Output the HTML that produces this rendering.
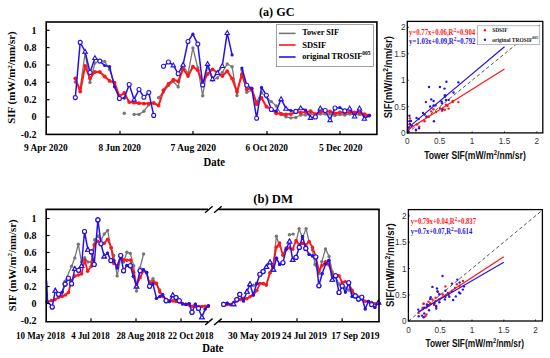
<!DOCTYPE html>
<html><head><meta charset="utf-8"><style>
html,body{margin:0;padding:0;background:#fff;width:550px;height:358px;overflow:hidden}
svg{display:block}
</style></head><body>
<svg width="550" height="358" viewBox="0 0 550 358">
<rect width="550" height="358" fill="#fff"/>
<polyline points="75.3,82 80.2,88.3 85.1,53 90,82.5 94.9,63 99.8,60.5 104.7,61.5 109.6,69.5 114.5,84 119.4,96" fill="none" stroke="#777777" stroke-width="1.3" stroke-linejoin="round" stroke-linecap="round"/>
<polyline points="134.1,114.4 139,114.4 143.9,111.2 148.8,104.8" fill="none" stroke="#777777" stroke-width="1.3" stroke-linejoin="round" stroke-linecap="round"/>
<polyline points="158.6,97.7 163.5,92 168.4,85.5 173.3,81.6 178.2,86.9 183.1,65 188,73.9 192.9,47.9 197.8,68 202.7,95.7 207.6,66 212.5,80 217.4,77.9 222.3,72.4 227.2,64 232.1,66.8 237,95.5 241.9,70 246.8,92.3 251.7,90 256.6,102 261.5,92.7 266.4,97 271.3,101.6 276.2,106 281.1,114.4 286,116.9 290.9,117.9 295.8,117.5 300.7,115 305.6,115 310.5,114 315.4,115.5 320.3,114 325.2,114 330.1,114 335,115.5 339.9,114.5 344.8,115 349.7,114 354.6,114.5 359.5,114.5 364.4,115.5 369.3,116" fill="none" stroke="#777777" stroke-width="1.3" stroke-linejoin="round" stroke-linecap="round"/>
<circle cx="75.3" cy="82" r="1.7" fill="#777777"/>
<circle cx="80.2" cy="88.3" r="1.7" fill="#777777"/>
<circle cx="85.1" cy="53" r="1.7" fill="#777777"/>
<circle cx="90" cy="82.5" r="1.7" fill="#777777"/>
<circle cx="94.9" cy="63" r="1.7" fill="#777777"/>
<circle cx="99.8" cy="60.5" r="1.7" fill="#777777"/>
<circle cx="104.7" cy="61.5" r="1.7" fill="#777777"/>
<circle cx="109.6" cy="69.5" r="1.7" fill="#777777"/>
<circle cx="114.5" cy="84" r="1.7" fill="#777777"/>
<circle cx="119.4" cy="96" r="1.7" fill="#777777"/>
<circle cx="124.3" cy="113.3" r="1.7" fill="#777777"/>
<circle cx="134.1" cy="114.4" r="1.7" fill="#777777"/>
<circle cx="139" cy="114.4" r="1.7" fill="#777777"/>
<circle cx="143.9" cy="111.2" r="1.7" fill="#777777"/>
<circle cx="148.8" cy="104.8" r="1.7" fill="#777777"/>
<circle cx="158.6" cy="97.7" r="1.7" fill="#777777"/>
<circle cx="163.5" cy="92" r="1.7" fill="#777777"/>
<circle cx="168.4" cy="85.5" r="1.7" fill="#777777"/>
<circle cx="173.3" cy="81.6" r="1.7" fill="#777777"/>
<circle cx="178.2" cy="86.9" r="1.7" fill="#777777"/>
<circle cx="183.1" cy="65" r="1.7" fill="#777777"/>
<circle cx="188" cy="73.9" r="1.7" fill="#777777"/>
<circle cx="192.9" cy="47.9" r="1.7" fill="#777777"/>
<circle cx="197.8" cy="68" r="1.7" fill="#777777"/>
<circle cx="202.7" cy="95.7" r="1.7" fill="#777777"/>
<circle cx="207.6" cy="66" r="1.7" fill="#777777"/>
<circle cx="212.5" cy="80" r="1.7" fill="#777777"/>
<circle cx="217.4" cy="77.9" r="1.7" fill="#777777"/>
<circle cx="222.3" cy="72.4" r="1.7" fill="#777777"/>
<circle cx="227.2" cy="64" r="1.7" fill="#777777"/>
<circle cx="232.1" cy="66.8" r="1.7" fill="#777777"/>
<circle cx="237" cy="95.5" r="1.7" fill="#777777"/>
<circle cx="241.9" cy="70" r="1.7" fill="#777777"/>
<circle cx="246.8" cy="92.3" r="1.7" fill="#777777"/>
<circle cx="251.7" cy="90" r="1.7" fill="#777777"/>
<circle cx="256.6" cy="102" r="1.7" fill="#777777"/>
<circle cx="261.5" cy="92.7" r="1.7" fill="#777777"/>
<circle cx="266.4" cy="97" r="1.7" fill="#777777"/>
<circle cx="271.3" cy="101.6" r="1.7" fill="#777777"/>
<circle cx="276.2" cy="106" r="1.7" fill="#777777"/>
<circle cx="281.1" cy="114.4" r="1.7" fill="#777777"/>
<circle cx="286" cy="116.9" r="1.7" fill="#777777"/>
<circle cx="290.9" cy="117.9" r="1.7" fill="#777777"/>
<circle cx="295.8" cy="117.5" r="1.7" fill="#777777"/>
<circle cx="300.7" cy="115" r="1.7" fill="#777777"/>
<circle cx="305.6" cy="115" r="1.7" fill="#777777"/>
<circle cx="310.5" cy="114" r="1.7" fill="#777777"/>
<circle cx="315.4" cy="115.5" r="1.7" fill="#777777"/>
<circle cx="320.3" cy="114" r="1.7" fill="#777777"/>
<circle cx="325.2" cy="114" r="1.7" fill="#777777"/>
<circle cx="330.1" cy="114" r="1.7" fill="#777777"/>
<circle cx="335" cy="115.5" r="1.7" fill="#777777"/>
<circle cx="339.9" cy="114.5" r="1.7" fill="#777777"/>
<circle cx="344.8" cy="115" r="1.7" fill="#777777"/>
<circle cx="349.7" cy="114" r="1.7" fill="#777777"/>
<circle cx="354.6" cy="114.5" r="1.7" fill="#777777"/>
<circle cx="359.5" cy="114.5" r="1.7" fill="#777777"/>
<circle cx="364.4" cy="115.5" r="1.7" fill="#777777"/>
<circle cx="369.3" cy="116" r="1.7" fill="#777777"/>
<polyline points="75.3,78.3 80.2,91.6 85.1,66 90,78.3 94.9,72 99.8,72 104.7,76.5 109.6,80.9 114.5,82.7 119.4,96.2 124.3,93 129.2,102.1 134.1,102.7 139,103.2 143.9,103.6 148.8,103.6 153.7,103 158.6,105.5 163.5,90.2 168.4,84 173.3,79.7 178.2,81.3 183.1,69 188,76 192.9,66.7 197.8,70.3 202.7,83 207.6,74.1 212.5,69.3 217.4,72.8 222.3,76 227.2,71.2 232.1,78.6 237,91.8 241.9,74.5 246.8,89.3 251.7,88.3 256.6,104.2 261.5,97.8 266.4,106.7 271.3,109.3 276.2,113.3 281.1,113.7 286,114.4 290.9,114.1 295.8,111.8 300.7,112.7 305.6,112 310.5,111.2 315.4,114.1 320.3,111.9 325.2,111.2 330.1,111.5 335,113.4 339.9,112.3 344.8,113 349.7,111.9 354.6,112.3 359.5,112.6 364.4,114.1 369.3,115.3" fill="none" stroke="#ff1616" stroke-width="2.0" stroke-linejoin="round" stroke-linecap="round"/>
<circle cx="75.3" cy="78.3" r="1.9" fill="#ff1616"/>
<circle cx="80.2" cy="91.6" r="1.9" fill="#ff1616"/>
<circle cx="85.1" cy="66" r="1.9" fill="#ff1616"/>
<circle cx="90" cy="78.3" r="1.9" fill="#ff1616"/>
<circle cx="94.9" cy="72" r="1.9" fill="#ff1616"/>
<circle cx="99.8" cy="72" r="1.9" fill="#ff1616"/>
<circle cx="104.7" cy="76.5" r="1.9" fill="#ff1616"/>
<circle cx="109.6" cy="80.9" r="1.9" fill="#ff1616"/>
<circle cx="114.5" cy="82.7" r="1.9" fill="#ff1616"/>
<circle cx="119.4" cy="96.2" r="1.9" fill="#ff1616"/>
<circle cx="124.3" cy="93" r="1.9" fill="#ff1616"/>
<circle cx="129.2" cy="102.1" r="1.9" fill="#ff1616"/>
<circle cx="134.1" cy="102.7" r="1.9" fill="#ff1616"/>
<circle cx="139" cy="103.2" r="1.9" fill="#ff1616"/>
<circle cx="143.9" cy="103.6" r="1.9" fill="#ff1616"/>
<circle cx="148.8" cy="103.6" r="1.9" fill="#ff1616"/>
<circle cx="153.7" cy="103" r="1.9" fill="#ff1616"/>
<circle cx="158.6" cy="105.5" r="1.9" fill="#ff1616"/>
<circle cx="163.5" cy="90.2" r="1.9" fill="#ff1616"/>
<circle cx="168.4" cy="84" r="1.9" fill="#ff1616"/>
<circle cx="173.3" cy="79.7" r="1.9" fill="#ff1616"/>
<circle cx="178.2" cy="81.3" r="1.9" fill="#ff1616"/>
<circle cx="183.1" cy="69" r="1.9" fill="#ff1616"/>
<circle cx="188" cy="76" r="1.9" fill="#ff1616"/>
<circle cx="192.9" cy="66.7" r="1.9" fill="#ff1616"/>
<circle cx="197.8" cy="70.3" r="1.9" fill="#ff1616"/>
<circle cx="202.7" cy="83" r="1.9" fill="#ff1616"/>
<circle cx="207.6" cy="74.1" r="1.9" fill="#ff1616"/>
<circle cx="212.5" cy="69.3" r="1.9" fill="#ff1616"/>
<circle cx="217.4" cy="72.8" r="1.9" fill="#ff1616"/>
<circle cx="222.3" cy="76" r="1.9" fill="#ff1616"/>
<circle cx="227.2" cy="71.2" r="1.9" fill="#ff1616"/>
<circle cx="232.1" cy="78.6" r="1.9" fill="#ff1616"/>
<circle cx="237" cy="91.8" r="1.9" fill="#ff1616"/>
<circle cx="241.9" cy="74.5" r="1.9" fill="#ff1616"/>
<circle cx="246.8" cy="89.3" r="1.9" fill="#ff1616"/>
<circle cx="251.7" cy="88.3" r="1.9" fill="#ff1616"/>
<circle cx="256.6" cy="104.2" r="1.9" fill="#ff1616"/>
<circle cx="261.5" cy="97.8" r="1.9" fill="#ff1616"/>
<circle cx="266.4" cy="106.7" r="1.9" fill="#ff1616"/>
<circle cx="271.3" cy="109.3" r="1.9" fill="#ff1616"/>
<circle cx="276.2" cy="113.3" r="1.9" fill="#ff1616"/>
<circle cx="281.1" cy="113.7" r="1.9" fill="#ff1616"/>
<circle cx="286" cy="114.4" r="1.9" fill="#ff1616"/>
<circle cx="290.9" cy="114.1" r="1.9" fill="#ff1616"/>
<circle cx="295.8" cy="111.8" r="1.9" fill="#ff1616"/>
<circle cx="300.7" cy="112.7" r="1.9" fill="#ff1616"/>
<circle cx="305.6" cy="112" r="1.9" fill="#ff1616"/>
<circle cx="310.5" cy="111.2" r="1.9" fill="#ff1616"/>
<circle cx="315.4" cy="114.1" r="1.9" fill="#ff1616"/>
<circle cx="320.3" cy="111.9" r="1.9" fill="#ff1616"/>
<circle cx="325.2" cy="111.2" r="1.9" fill="#ff1616"/>
<circle cx="330.1" cy="111.5" r="1.9" fill="#ff1616"/>
<circle cx="335" cy="113.4" r="1.9" fill="#ff1616"/>
<circle cx="339.9" cy="112.3" r="1.9" fill="#ff1616"/>
<circle cx="344.8" cy="113" r="1.9" fill="#ff1616"/>
<circle cx="349.7" cy="111.9" r="1.9" fill="#ff1616"/>
<circle cx="354.6" cy="112.3" r="1.9" fill="#ff1616"/>
<circle cx="359.5" cy="112.6" r="1.9" fill="#ff1616"/>
<circle cx="364.4" cy="114.1" r="1.9" fill="#ff1616"/>
<circle cx="369.3" cy="115.3" r="1.9" fill="#ff1616"/>
<polyline points="75.3,97.6 80.2,42.4 85.1,51.5 90,72.5 94.9,57.9 99.8,61.1 104.7,65.5 109.6,66.6 114.5,86.8 119.4,98.5 124.3,98.1 129.2,84.5 134.1,99.4 139,89.5 143.9,97.2 148.8,92.6 153.7,115.4" fill="none" stroke="#2612e6" stroke-width="1.5" stroke-linejoin="round" stroke-linecap="round"/>
<polyline points="163.5,66.3 168.4,62 173.3,65.2 178.2,73.8 183.1,64.6 188,41.5 192.9,34.2 197.8,44.1 202.7,84.9 207.6,63.7 212.5,78.9 217.4,72.8 222.3,65.8 227.2,32.9 232.1,54.9" fill="none" stroke="#2612e6" stroke-width="1.5" stroke-linejoin="round" stroke-linecap="round"/>
<polyline points="241.9,68 246.8,85.3 251.7,88.5 256.6,118.2 261.5,87.4 266.4,95.2 271.3,109.5 276.2,111.2 281.1,98.9 286,108.6 290.9,110.5 295.8,111.4 300.7,108 305.6,110 310.5,117.7 315.4,117 320.3,108.3 325.2,110.5 330.1,119.9 335,108 339.9,107.5 344.8,110.9 349.7,108.3 354.6,116.3 359.5,108.3 364.4,118.5 369.3,115.5" fill="none" stroke="#2612e6" stroke-width="1.5" stroke-linejoin="round" stroke-linecap="round"/>
<circle cx="75.3" cy="97.6" r="2.0" fill="#fff" stroke="#2612e6" stroke-width="1.1"/>
<circle cx="80.2" cy="42.4" r="2.0" fill="#fff" stroke="#2612e6" stroke-width="1.1"/>
<polygon points="85.1,49.3 82.9,53.1 87.3,53.1" fill="#fff" stroke="#2612e6" stroke-width="1.1"/>
<circle cx="90" cy="72.5" r="2.0" fill="#fff" stroke="#2612e6" stroke-width="1.1"/>
<polygon points="94.9,55.7 92.7,59.5 97.1,59.5" fill="#fff" stroke="#2612e6" stroke-width="1.1"/>
<circle cx="99.8" cy="61.1" r="2.0" fill="#fff" stroke="#2612e6" stroke-width="1.1"/>
<circle cx="104.7" cy="65.5" r="1.6" fill="#2612e6"/>
<circle cx="109.6" cy="66.6" r="1.6" fill="#2612e6"/>
<circle cx="114.5" cy="86.8" r="1.6" fill="#2612e6"/>
<circle cx="119.4" cy="98.5" r="2.0" fill="#fff" stroke="#2612e6" stroke-width="1.1"/>
<circle cx="124.3" cy="98.1" r="1.6" fill="#2612e6"/>
<circle cx="129.2" cy="84.5" r="2.0" fill="#fff" stroke="#2612e6" stroke-width="1.1"/>
<polygon points="134.1,97.2 131.9,101.1 136.3,101.1" fill="#fff" stroke="#2612e6" stroke-width="1.1"/>
<circle cx="139" cy="89.5" r="2.0" fill="#fff" stroke="#2612e6" stroke-width="1.1"/>
<circle cx="143.9" cy="97.2" r="2.0" fill="#fff" stroke="#2612e6" stroke-width="1.1"/>
<circle cx="148.8" cy="92.6" r="2.0" fill="#fff" stroke="#2612e6" stroke-width="1.1"/>
<circle cx="153.7" cy="115.4" r="2.0" fill="#fff" stroke="#2612e6" stroke-width="1.1"/>
<circle cx="163.5" cy="66.3" r="2.0" fill="#fff" stroke="#2612e6" stroke-width="1.1"/>
<circle cx="168.4" cy="62" r="2.0" fill="#fff" stroke="#2612e6" stroke-width="1.1"/>
<polygon points="173.3,63 171.1,66.9 175.5,66.9" fill="#fff" stroke="#2612e6" stroke-width="1.1"/>
<circle cx="178.2" cy="73.8" r="2.0" fill="#fff" stroke="#2612e6" stroke-width="1.1"/>
<polygon points="183.1,62.4 180.9,66.2 185.3,66.2" fill="#fff" stroke="#2612e6" stroke-width="1.1"/>
<circle cx="188" cy="41.5" r="2.0" fill="#fff" stroke="#2612e6" stroke-width="1.1"/>
<circle cx="192.9" cy="34.2" r="1.6" fill="#2612e6"/>
<circle cx="197.8" cy="44.1" r="2.0" fill="#fff" stroke="#2612e6" stroke-width="1.1"/>
<circle cx="202.7" cy="84.9" r="2.0" fill="#fff" stroke="#2612e6" stroke-width="1.1"/>
<polygon points="207.6,61.5 205.4,65.4 209.8,65.4" fill="#fff" stroke="#2612e6" stroke-width="1.1"/>
<polygon points="212.5,76.7 210.3,80.6 214.7,80.6" fill="#fff" stroke="#2612e6" stroke-width="1.1"/>
<polygon points="217.4,70.6 215.2,74.5 219.6,74.5" fill="#fff" stroke="#2612e6" stroke-width="1.1"/>
<polygon points="222.3,63.6 220.1,67.5 224.5,67.5" fill="#fff" stroke="#2612e6" stroke-width="1.1"/>
<polygon points="227.2,30.7 225,34.5 229.4,34.5" fill="#fff" stroke="#2612e6" stroke-width="1.1"/>
<circle cx="232.1" cy="54.9" r="1.6" fill="#2612e6"/>
<circle cx="241.9" cy="68" r="1.6" fill="#2612e6"/>
<circle cx="246.8" cy="85.3" r="2.0" fill="#fff" stroke="#2612e6" stroke-width="1.1"/>
<circle cx="251.7" cy="88.5" r="1.6" fill="#2612e6"/>
<circle cx="256.6" cy="118.2" r="2.0" fill="#fff" stroke="#2612e6" stroke-width="1.1"/>
<circle cx="261.5" cy="87.4" r="1.6" fill="#2612e6"/>
<circle cx="266.4" cy="95.2" r="2.0" fill="#fff" stroke="#2612e6" stroke-width="1.1"/>
<circle cx="271.3" cy="109.5" r="2.0" fill="#fff" stroke="#2612e6" stroke-width="1.1"/>
<circle cx="276.2" cy="111.2" r="1.6" fill="#2612e6"/>
<polygon points="281.1,96.7 278.9,100.6 283.3,100.6" fill="#fff" stroke="#2612e6" stroke-width="1.1"/>
<polygon points="286,106.4 283.8,110.2 288.2,110.2" fill="#fff" stroke="#2612e6" stroke-width="1.1"/>
<circle cx="290.9" cy="110.5" r="1.6" fill="#2612e6"/>
<circle cx="295.8" cy="111.4" r="2.0" fill="#fff" stroke="#2612e6" stroke-width="1.1"/>
<polygon points="300.7,105.8 298.5,109.7 302.9,109.7" fill="#fff" stroke="#2612e6" stroke-width="1.1"/>
<circle cx="305.6" cy="110" r="1.6" fill="#2612e6"/>
<polygon points="310.5,115.5 308.3,119.4 312.7,119.4" fill="#fff" stroke="#2612e6" stroke-width="1.1"/>
<circle cx="315.4" cy="117" r="2.0" fill="#fff" stroke="#2612e6" stroke-width="1.1"/>
<polygon points="320.3,106.1 318.1,110 322.5,110" fill="#fff" stroke="#2612e6" stroke-width="1.1"/>
<circle cx="325.2" cy="110.5" r="2.0" fill="#fff" stroke="#2612e6" stroke-width="1.1"/>
<polygon points="330.1,117.7 327.9,121.6 332.3,121.6" fill="#fff" stroke="#2612e6" stroke-width="1.1"/>
<circle cx="335" cy="108" r="2.0" fill="#fff" stroke="#2612e6" stroke-width="1.1"/>
<circle cx="339.9" cy="107.5" r="1.6" fill="#2612e6"/>
<circle cx="344.8" cy="110.9" r="2.0" fill="#fff" stroke="#2612e6" stroke-width="1.1"/>
<polygon points="349.7,106.1 347.5,110 351.9,110" fill="#fff" stroke="#2612e6" stroke-width="1.1"/>
<polygon points="354.6,114.1 352.4,118 356.8,118" fill="#fff" stroke="#2612e6" stroke-width="1.1"/>
<polygon points="359.5,106.1 357.3,110 361.7,110" fill="#fff" stroke="#2612e6" stroke-width="1.1"/>
<polygon points="364.4,116.3 362.2,120.2 366.6,120.2" fill="#fff" stroke="#2612e6" stroke-width="1.1"/>
<circle cx="369.3" cy="115.5" r="1.6" fill="#2612e6"/>
<rect x="46.2" y="22" width="330.7" height="112.4" fill="none" stroke="#000" stroke-width="1.6"/>
<text x="36.6" y="137.7" font-family="Liberation Serif" font-size="10" font-weight="bold" text-anchor="end" fill="#000" >-0.2</text>
<line x1="46.2" y1="117" x2="49.6" y2="117" stroke="#000" stroke-width="1.2"/>
<text x="36.6" y="120.4" font-family="Liberation Serif" font-size="10" font-weight="bold" text-anchor="end" fill="#000" >0</text>
<line x1="46.2" y1="99.7" x2="49.6" y2="99.7" stroke="#000" stroke-width="1.2"/>
<text x="36.6" y="103.1" font-family="Liberation Serif" font-size="10" font-weight="bold" text-anchor="end" fill="#000" >0.2</text>
<line x1="46.2" y1="82.3" x2="49.6" y2="82.3" stroke="#000" stroke-width="1.2"/>
<text x="36.6" y="85.7" font-family="Liberation Serif" font-size="10" font-weight="bold" text-anchor="end" fill="#000" >0.4</text>
<line x1="46.2" y1="65" x2="49.6" y2="65" stroke="#000" stroke-width="1.2"/>
<text x="36.6" y="68.4" font-family="Liberation Serif" font-size="10" font-weight="bold" text-anchor="end" fill="#000" >0.6</text>
<line x1="46.2" y1="47.6" x2="49.6" y2="47.6" stroke="#000" stroke-width="1.2"/>
<text x="36.6" y="51" font-family="Liberation Serif" font-size="10" font-weight="bold" text-anchor="end" fill="#000" >0.8</text>
<line x1="46.2" y1="30.3" x2="49.6" y2="30.3" stroke="#000" stroke-width="1.2"/>
<text x="36.6" y="33.7" font-family="Liberation Serif" font-size="10" font-weight="bold" text-anchor="end" fill="#000" >1</text>
<text x="24" y="151" font-family="Liberation Serif" font-size="10.2" font-weight="bold" fill="#000" textLength="43.6" lengthAdjust="spacingAndGlyphs" >9 Apr 2020</text>
<line x1="120" y1="134.4" x2="120" y2="131.0" stroke="#000" stroke-width="1.2"/>
<text x="98.4" y="151" font-family="Liberation Serif" font-size="10.2" font-weight="bold" fill="#000" textLength="42.6" lengthAdjust="spacingAndGlyphs" >8 Jun 2020</text>
<line x1="193" y1="134.4" x2="193" y2="131.0" stroke="#000" stroke-width="1.2"/>
<text x="170.4" y="151" font-family="Liberation Serif" font-size="10.2" font-weight="bold" fill="#000" textLength="45.6" lengthAdjust="spacingAndGlyphs" >7 Aug 2020</text>
<line x1="267" y1="134.4" x2="267" y2="131.0" stroke="#000" stroke-width="1.2"/>
<text x="245.6" y="151" font-family="Liberation Serif" font-size="10.2" font-weight="bold" fill="#000" textLength="42.4" lengthAdjust="spacingAndGlyphs" >6 Oct 2020</text>
<line x1="340" y1="134.4" x2="340" y2="131.0" stroke="#000" stroke-width="1.2"/>
<text x="319" y="151" font-family="Liberation Serif" font-size="10.2" font-weight="bold" fill="#000" textLength="43.4" lengthAdjust="spacingAndGlyphs" >5 Dec 2020</text>
<text x="203.6" y="165.6" font-family="Liberation Serif" font-size="11.5" font-weight="bold" fill="#000" textLength="21.4" lengthAdjust="spacingAndGlyphs" >Date</text>
<text transform="translate(14.8,123.7) rotate(-90)" x="0" y="0" font-family="Liberation Serif" font-size="10.8" font-weight="bold" fill="#000" textLength="92.4" lengthAdjust="spacingAndGlyphs">SIF (mW/m<tspan dy="-3.2" font-size="7">2</tspan><tspan dy="3.2">/nm/sr)</tspan></text>
<text x="258.9" y="16.2" font-family="Liberation Serif" font-size="12.2" font-weight="bold" fill="#000" textLength="35.6" lengthAdjust="spacingAndGlyphs" >(a) GC</text>
<rect x="276.4" y="24.6" width="97" height="42" fill="#fff" stroke="#8a8a8a" stroke-width="0.8"/>
<line x1="279" y1="33.4" x2="295.6" y2="33.4" stroke="#777777" stroke-width="1.6"/>
<text x="302.2" y="35.3" font-family="Liberation Serif" font-size="8.4" font-weight="bold" fill="#000" textLength="36.9" lengthAdjust="spacingAndGlyphs" >Tower SIF</text>
<line x1="279" y1="45" x2="295.6" y2="45" stroke="#ff1616" stroke-width="1.6"/>
<text x="302.2" y="47.6" font-family="Liberation Serif" font-size="8.4" font-weight="bold" fill="#000" textLength="24.1" lengthAdjust="spacingAndGlyphs" >SDSIF</text>
<line x1="279" y1="57" x2="295.6" y2="57" stroke="#2612e6" stroke-width="1.6"/>
<text x="302.2" y="58.6" font-family="Liberation Serif" font-size="8.4" font-weight="bold" fill="#000" textLength="68.4" lengthAdjust="spacingAndGlyphs" >original TROSIF<tspan dy="-3.2" font-size="5.6">005</tspan></text>
<line x1="407.3" y1="133.2" x2="540.1" y2="24.8" stroke="#555" stroke-width="1" stroke-dasharray="3.5,2.5"/>
<circle cx="458.4" cy="102.1" r="1.2" fill="#ff1616"/>
<circle cx="453" cy="101.8" r="1.2" fill="#ff1616"/>
<circle cx="445.9" cy="104.8" r="1.2" fill="#ff1616"/>
<circle cx="447.5" cy="105.9" r="1.2" fill="#ff1616"/>
<circle cx="448.6" cy="108.6" r="1.2" fill="#ff1616"/>
<circle cx="439.9" cy="108.1" r="1.2" fill="#ff1616"/>
<circle cx="442.1" cy="110.8" r="1.2" fill="#ff1616"/>
<circle cx="444.8" cy="109.7" r="1.2" fill="#ff1616"/>
<circle cx="433.4" cy="109.2" r="1.2" fill="#ff1616"/>
<circle cx="431.2" cy="111.4" r="1.2" fill="#ff1616"/>
<circle cx="426.3" cy="116.8" r="1.2" fill="#ff1616"/>
<circle cx="428.8" cy="116.8" r="1.2" fill="#ff1616"/>
<circle cx="424.6" cy="121.2" r="1.2" fill="#ff1616"/>
<circle cx="416.5" cy="124.4" r="1.2" fill="#ff1616"/>
<circle cx="419.2" cy="126.6" r="1.2" fill="#ff1616"/>
<circle cx="409.9" cy="118.4" r="1.2" fill="#ff1616"/>
<circle cx="409.4" cy="124.4" r="1.2" fill="#ff1616"/>
<circle cx="415.9" cy="130.4" r="1.2" fill="#ff1616"/>
<circle cx="452.6" cy="101" r="1.2" fill="#ff1616"/>
<circle cx="436" cy="112" r="1.2" fill="#ff1616"/>
<circle cx="410" cy="128" r="1.2" fill="#ff1616"/>
<circle cx="408.5" cy="131.5" r="1.2" fill="#ff1616"/>
<circle cx="429" cy="87" r="1.2" fill="#2612e6"/>
<circle cx="439.9" cy="87" r="1.2" fill="#2612e6"/>
<circle cx="444.5" cy="88.6" r="1.2" fill="#2612e6"/>
<circle cx="446.4" cy="81.8" r="1.2" fill="#2612e6"/>
<circle cx="458.4" cy="82.4" r="1.2" fill="#2612e6"/>
<circle cx="453.5" cy="92.5" r="1.2" fill="#2612e6"/>
<circle cx="444.8" cy="95.4" r="1.2" fill="#2612e6"/>
<circle cx="445.3" cy="95.5" r="1.2" fill="#2612e6"/>
<circle cx="445" cy="96.6" r="1.2" fill="#2612e6"/>
<circle cx="431.2" cy="99.4" r="1.2" fill="#2612e6"/>
<circle cx="433.6" cy="101" r="1.2" fill="#2612e6"/>
<circle cx="425.9" cy="102.1" r="1.2" fill="#2612e6"/>
<circle cx="441.5" cy="101.5" r="1.2" fill="#2612e6"/>
<circle cx="445.9" cy="99.9" r="1.2" fill="#2612e6"/>
<circle cx="448.6" cy="99.9" r="1.2" fill="#2612e6"/>
<circle cx="430.1" cy="106.5" r="1.2" fill="#2612e6"/>
<circle cx="433.6" cy="105.4" r="1.2" fill="#2612e6"/>
<circle cx="435.5" cy="105.4" r="1.2" fill="#2612e6"/>
<circle cx="442.1" cy="103.2" r="1.2" fill="#2612e6"/>
<circle cx="442.6" cy="109.2" r="1.2" fill="#2612e6"/>
<circle cx="423" cy="113" r="1.2" fill="#2612e6"/>
<circle cx="424.6" cy="114.6" r="1.2" fill="#2612e6"/>
<circle cx="426.8" cy="116.8" r="1.2" fill="#2612e6"/>
<circle cx="416.5" cy="117.9" r="1.2" fill="#2612e6"/>
<circle cx="418.6" cy="119" r="1.2" fill="#2612e6"/>
<circle cx="433.9" cy="121.2" r="1.2" fill="#2612e6"/>
<circle cx="409.4" cy="115.7" r="1.2" fill="#2612e6"/>
<circle cx="409.4" cy="121.2" r="1.2" fill="#2612e6"/>
<circle cx="411" cy="121" r="1.2" fill="#2612e6"/>
<circle cx="415.9" cy="129.7" r="1.2" fill="#2612e6"/>
<circle cx="419" cy="128.3" r="1.2" fill="#2612e6"/>
<circle cx="408.3" cy="127.7" r="1.2" fill="#2612e6"/>
<circle cx="408.3" cy="131" r="1.2" fill="#2612e6"/>
<circle cx="410" cy="124" r="1.2" fill="#2612e6"/>
<circle cx="412" cy="126" r="1.2" fill="#2612e6"/>
<circle cx="408.5" cy="129" r="1.2" fill="#2612e6"/>
<line x1="407.3" y1="130" x2="504.5" y2="68.9" stroke="#ff1616" stroke-width="1.2"/>
<line x1="407.3" y1="128.4" x2="504.5" y2="46.7" stroke="#2612e6" stroke-width="1.2"/>
<rect x="407.3" y="21.4" width="135.49999999999994" height="111.5" fill="none" stroke="#000" stroke-width="1.3"/>
<line x1="407.3" y1="132.9" x2="407.3" y2="131.4" stroke="#000" stroke-width="0.8"/>
<line x1="407.3" y1="133.2" x2="408.8" y2="133.2" stroke="#000" stroke-width="0.8"/>
<text x="407.3" y="144.1" font-family="Liberation Sans" font-size="8.2" font-weight="normal" text-anchor="middle" fill="#333" >0</text>
<text x="405.6" y="136.2" font-family="Liberation Sans" font-size="8.2" font-weight="normal" text-anchor="end" fill="#333" >0</text>
<line x1="439.7" y1="132.9" x2="439.7" y2="131.4" stroke="#000" stroke-width="0.8"/>
<line x1="407.3" y1="106.7" x2="408.8" y2="106.7" stroke="#000" stroke-width="0.8"/>
<text x="439.7" y="144.1" font-family="Liberation Sans" font-size="8.2" font-weight="normal" text-anchor="middle" fill="#333" >0.5</text>
<text x="405.6" y="109.7" font-family="Liberation Sans" font-size="8.2" font-weight="normal" text-anchor="end" fill="#333" >0.5</text>
<line x1="472.1" y1="132.9" x2="472.1" y2="131.4" stroke="#000" stroke-width="0.8"/>
<line x1="407.3" y1="80.3" x2="408.8" y2="80.3" stroke="#000" stroke-width="0.8"/>
<text x="472.1" y="144.1" font-family="Liberation Sans" font-size="8.2" font-weight="normal" text-anchor="middle" fill="#333" >1</text>
<text x="405.6" y="83.3" font-family="Liberation Sans" font-size="8.2" font-weight="normal" text-anchor="end" fill="#333" >1</text>
<line x1="504.5" y1="132.9" x2="504.5" y2="131.4" stroke="#000" stroke-width="0.8"/>
<line x1="407.3" y1="53.8" x2="408.8" y2="53.8" stroke="#000" stroke-width="0.8"/>
<text x="504.5" y="144.1" font-family="Liberation Sans" font-size="8.2" font-weight="normal" text-anchor="middle" fill="#333" >1.5</text>
<text x="405.6" y="56.8" font-family="Liberation Sans" font-size="8.2" font-weight="normal" text-anchor="end" fill="#333" >1.5</text>
<line x1="536.9" y1="132.9" x2="536.9" y2="131.4" stroke="#000" stroke-width="0.8"/>
<line x1="407.3" y1="27.4" x2="408.8" y2="27.4" stroke="#000" stroke-width="0.8"/>
<text x="536.9" y="144.1" font-family="Liberation Sans" font-size="8.2" font-weight="normal" text-anchor="middle" fill="#333" >2</text>
<text x="405.6" y="30.4" font-family="Liberation Sans" font-size="8.2" font-weight="normal" text-anchor="end" fill="#333" >2</text>
<text x="424.2" y="159" font-family="Liberation Sans" font-size="10.6" font-weight="bold" fill="#111" textLength="101.6" lengthAdjust="spacingAndGlyphs" >Tower SIF(mW/m<tspan dy="-4" font-size="7.4">2</tspan><tspan dy="4">/nm/sr)</tspan></text>
<text transform="translate(391.6,118.3) rotate(-90)" x="0" y="0" font-family="Liberation Sans" font-size="10" font-weight="bold" fill="#111" textLength="82.3" lengthAdjust="spacingAndGlyphs">SIF(mW/m<tspan dy="-3.8" font-size="7.2">2</tspan><tspan dy="3.8">/nm/sr)</tspan></text>
<text x="409.1" y="35.3" font-family="Liberation Serif" font-size="7.2" font-weight="bold" fill="#ff1616" textLength="66" lengthAdjust="spacingAndGlyphs" >y=0.77x+0.06,R<tspan dy="-3" font-size="5.8">2</tspan><tspan dy="3">=0.904</tspan></text>
<text x="409.1" y="44.4" font-family="Liberation Serif" font-size="7.2" font-weight="bold" fill="#2612e6" textLength="66.4" lengthAdjust="spacingAndGlyphs" >y=1.03x+0.09,R<tspan dy="-3" font-size="5.8">2</tspan><tspan dy="3">=0.792</tspan></text>
<rect x="477.3" y="25.8" width="62" height="18.9" fill="#fff" stroke="#999" stroke-width="0.7"/>
<circle cx="484.9" cy="30.3" r="1.2" fill="#ff1616"/>
<circle cx="484.9" cy="39.8" r="1.2" fill="#2612e6"/>
<text x="492.2" y="32.1" font-family="Liberation Serif" font-size="6.8" font-weight="bold" fill="#222" textLength="15.3" lengthAdjust="spacingAndGlyphs" >SDSIF</text>
<text x="492.2" y="41.7" font-family="Liberation Serif" font-size="6.8" font-weight="bold" fill="#222" textLength="46.2" lengthAdjust="spacingAndGlyphs" >original TROSIF<tspan dy="-2.4" font-size="5">005</tspan></text>
<polyline points="62,295 65.1,281.2 71.6,266.3 74.8,258 78.3,244.2 81.5,262 84.7,257.7 87.9,262 91.3,262 94.7,239.8 97.9,236 101,240 104.3,234 107.6,230.5 111,248 113.8,255.5 117.2,275.9 120.7,258 123.6,262 126.9,252.3 130.3,253.4 133.7,265.7 136.5,291.1 140,268 143.6,254" fill="none" stroke="#777777" stroke-width="1.3" stroke-linejoin="round" stroke-linecap="round"/>
<polyline points="149.6,282 153,278.8 156.5,284 159.8,290" fill="none" stroke="#777777" stroke-width="1.3" stroke-linejoin="round" stroke-linecap="round"/>
<circle cx="62" cy="295" r="1.7" fill="#777777"/>
<circle cx="65.1" cy="281.2" r="1.7" fill="#777777"/>
<circle cx="71.6" cy="266.3" r="1.7" fill="#777777"/>
<circle cx="74.8" cy="258" r="1.7" fill="#777777"/>
<circle cx="78.3" cy="244.2" r="1.7" fill="#777777"/>
<circle cx="81.5" cy="262" r="1.7" fill="#777777"/>
<circle cx="84.7" cy="257.7" r="1.7" fill="#777777"/>
<circle cx="87.9" cy="262" r="1.7" fill="#777777"/>
<circle cx="91.3" cy="262" r="1.7" fill="#777777"/>
<circle cx="94.7" cy="239.8" r="1.7" fill="#777777"/>
<circle cx="97.9" cy="236" r="1.7" fill="#777777"/>
<circle cx="101" cy="240" r="1.7" fill="#777777"/>
<circle cx="104.3" cy="234" r="1.7" fill="#777777"/>
<circle cx="107.6" cy="230.5" r="1.7" fill="#777777"/>
<circle cx="111" cy="248" r="1.7" fill="#777777"/>
<circle cx="113.8" cy="255.5" r="1.7" fill="#777777"/>
<circle cx="117.2" cy="275.9" r="1.7" fill="#777777"/>
<circle cx="120.7" cy="258" r="1.7" fill="#777777"/>
<circle cx="123.6" cy="262" r="1.7" fill="#777777"/>
<circle cx="126.9" cy="252.3" r="1.7" fill="#777777"/>
<circle cx="130.3" cy="253.4" r="1.7" fill="#777777"/>
<circle cx="133.7" cy="265.7" r="1.7" fill="#777777"/>
<circle cx="136.5" cy="291.1" r="1.7" fill="#777777"/>
<circle cx="140" cy="268" r="1.7" fill="#777777"/>
<circle cx="143.6" cy="254" r="1.7" fill="#777777"/>
<circle cx="149.6" cy="282" r="1.7" fill="#777777"/>
<circle cx="153" cy="278.8" r="1.7" fill="#777777"/>
<circle cx="156.5" cy="284" r="1.7" fill="#777777"/>
<circle cx="159.8" cy="290" r="1.7" fill="#777777"/>
<polyline points="46.9,301.8 51.3,300.5 54.9,299.8 58.5,297.5 62.2,296.5 65.5,295 68.4,292.5 71.6,280.5 74.8,276.1 78.3,275 81.5,273.9 84.7,260.1 87.6,271.3 91.3,266.3 94.2,244.9 97.6,241.3 101,243.2 104.3,243.2 107.6,239.3 111.2,247.5 113.8,263.5 117.2,265.7 120.7,256.3 123.6,259.9 126.9,260.2 130.5,260.1 133.6,272.3 136.5,285 140.2,277.5 143.4,270.7 146.7,273 149.6,284.1 153,281.9 156.5,283.4 159.8,292.1 162.9,296.5 166.1,299.3 169.5,300.7 172.8,300.9 176,301.5 179.3,302 182.5,303.6 185.9,304.4 189.1,305.1 192,306.2 195.3,306.5 198.5,306.5 201.9,306.5 205.1,306.2 208.4,305.9" fill="none" stroke="#ff1616" stroke-width="1.8" stroke-linejoin="round" stroke-linecap="round"/>
<circle cx="46.9" cy="301.8" r="1.8" fill="#ff1616"/>
<circle cx="51.3" cy="300.5" r="1.8" fill="#ff1616"/>
<circle cx="54.9" cy="299.8" r="1.8" fill="#ff1616"/>
<circle cx="58.5" cy="297.5" r="1.8" fill="#ff1616"/>
<circle cx="62.2" cy="296.5" r="1.8" fill="#ff1616"/>
<circle cx="65.5" cy="295" r="1.8" fill="#ff1616"/>
<circle cx="68.4" cy="292.5" r="1.8" fill="#ff1616"/>
<circle cx="71.6" cy="280.5" r="1.8" fill="#ff1616"/>
<circle cx="74.8" cy="276.1" r="1.8" fill="#ff1616"/>
<circle cx="78.3" cy="275" r="1.8" fill="#ff1616"/>
<circle cx="81.5" cy="273.9" r="1.8" fill="#ff1616"/>
<circle cx="84.7" cy="260.1" r="1.8" fill="#ff1616"/>
<circle cx="87.6" cy="271.3" r="1.8" fill="#ff1616"/>
<circle cx="91.3" cy="266.3" r="1.8" fill="#ff1616"/>
<circle cx="94.2" cy="244.9" r="1.8" fill="#ff1616"/>
<circle cx="97.6" cy="241.3" r="1.8" fill="#ff1616"/>
<circle cx="101" cy="243.2" r="1.8" fill="#ff1616"/>
<circle cx="104.3" cy="243.2" r="1.8" fill="#ff1616"/>
<circle cx="107.6" cy="239.3" r="1.8" fill="#ff1616"/>
<circle cx="111.2" cy="247.5" r="1.8" fill="#ff1616"/>
<circle cx="113.8" cy="263.5" r="1.8" fill="#ff1616"/>
<circle cx="117.2" cy="265.7" r="1.8" fill="#ff1616"/>
<circle cx="120.7" cy="256.3" r="1.8" fill="#ff1616"/>
<circle cx="123.6" cy="259.9" r="1.8" fill="#ff1616"/>
<circle cx="126.9" cy="260.2" r="1.8" fill="#ff1616"/>
<circle cx="130.5" cy="260.1" r="1.8" fill="#ff1616"/>
<circle cx="133.6" cy="272.3" r="1.8" fill="#ff1616"/>
<circle cx="136.5" cy="285" r="1.8" fill="#ff1616"/>
<circle cx="140.2" cy="277.5" r="1.8" fill="#ff1616"/>
<circle cx="143.4" cy="270.7" r="1.8" fill="#ff1616"/>
<circle cx="146.7" cy="273" r="1.8" fill="#ff1616"/>
<circle cx="149.6" cy="284.1" r="1.8" fill="#ff1616"/>
<circle cx="153" cy="281.9" r="1.8" fill="#ff1616"/>
<circle cx="156.5" cy="283.4" r="1.8" fill="#ff1616"/>
<circle cx="159.8" cy="292.1" r="1.8" fill="#ff1616"/>
<circle cx="162.9" cy="296.5" r="1.8" fill="#ff1616"/>
<circle cx="166.1" cy="299.3" r="1.8" fill="#ff1616"/>
<circle cx="169.5" cy="300.7" r="1.8" fill="#ff1616"/>
<circle cx="172.8" cy="300.9" r="1.8" fill="#ff1616"/>
<circle cx="176" cy="301.5" r="1.8" fill="#ff1616"/>
<circle cx="179.3" cy="302" r="1.8" fill="#ff1616"/>
<circle cx="182.5" cy="303.6" r="1.8" fill="#ff1616"/>
<circle cx="185.9" cy="304.4" r="1.8" fill="#ff1616"/>
<circle cx="189.1" cy="305.1" r="1.8" fill="#ff1616"/>
<circle cx="192" cy="306.2" r="1.8" fill="#ff1616"/>
<circle cx="195.3" cy="306.5" r="1.8" fill="#ff1616"/>
<circle cx="198.5" cy="306.5" r="1.8" fill="#ff1616"/>
<circle cx="201.9" cy="306.5" r="1.8" fill="#ff1616"/>
<circle cx="205.1" cy="306.2" r="1.8" fill="#ff1616"/>
<circle cx="208.4" cy="305.9" r="1.8" fill="#ff1616"/>
<polyline points="46.6,281 47.6,301.5 52.2,307 55.3,290.6 58.5,294.3 62.2,292.1 65.1,284.1 68.4,278.3 71.6,283.8 74.8,268.8 78.6,270.3 81.5,265.9 84.5,231.5 87.9,249.6 91.4,251.9 94.2,264.5 97.9,219.9 101,243.7 104.2,256.3 107.6,253 110.9,260.6 113.8,260.6 117.2,268 120.7,255.5 123.6,270.8 126.9,265.4 130.3,265.7 133.4,276.3 136.5,286.3 140.1,270.7 143.4,269.5 146.6,272.4 149.6,286.3 153,284.1 156.5,298.3 159.8,296.5 162.7,294.7 166.1,300.7 169.5,301.6 172.8,295 176,297.6 179.3,300.7 182.5,304 185.9,304.4 189.1,303.5 192,312.3 195.3,304.2 198.5,308.4 201.9,317.1 205.1,309.1 208.4,305.9" fill="none" stroke="#2612e6" stroke-width="1.5" stroke-linejoin="round" stroke-linecap="round"/>
<circle cx="52.2" cy="307" r="2.0" fill="#fff" stroke="#2612e6" stroke-width="1.1"/>
<polygon points="55.3,288.4 53.1,292.2 57.5,292.2" fill="#fff" stroke="#2612e6" stroke-width="1.1"/>
<circle cx="58.5" cy="294.3" r="2.0" fill="#fff" stroke="#2612e6" stroke-width="1.1"/>
<circle cx="62.2" cy="292.1" r="1.6" fill="#2612e6"/>
<circle cx="65.1" cy="284.1" r="2.0" fill="#fff" stroke="#2612e6" stroke-width="1.1"/>
<circle cx="68.4" cy="278.3" r="2.0" fill="#fff" stroke="#2612e6" stroke-width="1.1"/>
<circle cx="71.6" cy="283.8" r="2.0" fill="#fff" stroke="#2612e6" stroke-width="1.1"/>
<polygon points="74.8,266.6 72.6,270.4 77,270.4" fill="#fff" stroke="#2612e6" stroke-width="1.1"/>
<circle cx="78.6" cy="270.3" r="2.0" fill="#fff" stroke="#2612e6" stroke-width="1.1"/>
<polygon points="81.5,263.7 79.3,267.5 83.7,267.5" fill="#fff" stroke="#2612e6" stroke-width="1.1"/>
<circle cx="84.5" cy="231.5" r="2.0" fill="#fff" stroke="#2612e6" stroke-width="1.1"/>
<polygon points="87.9,247.4 85.7,251.2 90.1,251.2" fill="#fff" stroke="#2612e6" stroke-width="1.1"/>
<circle cx="91.4" cy="251.9" r="2.0" fill="#fff" stroke="#2612e6" stroke-width="1.1"/>
<circle cx="94.2" cy="264.5" r="2.0" fill="#fff" stroke="#2612e6" stroke-width="1.1"/>
<circle cx="97.9" cy="219.9" r="2.0" fill="#fff" stroke="#2612e6" stroke-width="1.1"/>
<circle cx="101" cy="243.7" r="2.0" fill="#fff" stroke="#2612e6" stroke-width="1.1"/>
<polygon points="104.2,254.1 102,257.9 106.4,257.9" fill="#fff" stroke="#2612e6" stroke-width="1.1"/>
<circle cx="107.6" cy="253" r="1.6" fill="#2612e6"/>
<circle cx="110.9" cy="260.6" r="2.0" fill="#fff" stroke="#2612e6" stroke-width="1.1"/>
<circle cx="113.8" cy="260.6" r="1.6" fill="#2612e6"/>
<circle cx="117.2" cy="268" r="1.6" fill="#2612e6"/>
<circle cx="120.7" cy="255.5" r="2.0" fill="#fff" stroke="#2612e6" stroke-width="1.1"/>
<circle cx="123.6" cy="270.8" r="2.0" fill="#fff" stroke="#2612e6" stroke-width="1.1"/>
<circle cx="126.9" cy="265.4" r="1.6" fill="#2612e6"/>
<circle cx="130.3" cy="265.7" r="2.0" fill="#fff" stroke="#2612e6" stroke-width="1.1"/>
<circle cx="133.4" cy="276.3" r="1.6" fill="#2612e6"/>
<polygon points="136.5,284.1 134.3,287.9 138.7,287.9" fill="#fff" stroke="#2612e6" stroke-width="1.1"/>
<circle cx="140.1" cy="270.7" r="2.0" fill="#fff" stroke="#2612e6" stroke-width="1.1"/>
<circle cx="143.4" cy="269.5" r="1.6" fill="#2612e6"/>
<circle cx="146.6" cy="272.4" r="1.6" fill="#2612e6"/>
<circle cx="149.6" cy="286.3" r="2.0" fill="#fff" stroke="#2612e6" stroke-width="1.1"/>
<circle cx="153" cy="284.1" r="1.6" fill="#2612e6"/>
<circle cx="156.5" cy="298.3" r="1.6" fill="#2612e6"/>
<circle cx="159.8" cy="296.5" r="1.6" fill="#2612e6"/>
<circle cx="162.7" cy="294.7" r="1.6" fill="#2612e6"/>
<circle cx="166.1" cy="300.7" r="2.0" fill="#fff" stroke="#2612e6" stroke-width="1.1"/>
<circle cx="169.5" cy="301.6" r="1.6" fill="#2612e6"/>
<polygon points="172.8,292.8 170.6,296.6 175,296.6" fill="#fff" stroke="#2612e6" stroke-width="1.1"/>
<circle cx="176" cy="297.6" r="2.0" fill="#fff" stroke="#2612e6" stroke-width="1.1"/>
<circle cx="179.3" cy="300.7" r="2.0" fill="#fff" stroke="#2612e6" stroke-width="1.1"/>
<circle cx="182.5" cy="304" r="1.6" fill="#2612e6"/>
<circle cx="185.9" cy="304.4" r="1.6" fill="#2612e6"/>
<circle cx="189.1" cy="303.5" r="1.6" fill="#2612e6"/>
<circle cx="192" cy="312.3" r="2.0" fill="#fff" stroke="#2612e6" stroke-width="1.1"/>
<circle cx="195.3" cy="304.2" r="1.6" fill="#2612e6"/>
<circle cx="198.5" cy="308.4" r="2.0" fill="#fff" stroke="#2612e6" stroke-width="1.1"/>
<polygon points="201.9,314.9 199.7,318.8 204.1,318.8" fill="#fff" stroke="#2612e6" stroke-width="1.1"/>
<circle cx="205.1" cy="309.1" r="1.6" fill="#2612e6"/>
<circle cx="208.4" cy="305.9" r="1.6" fill="#2612e6"/>
<circle cx="52.2" cy="307" r="2.0" fill="#fff" stroke="#2612e6" stroke-width="1.1"/>
<polygon points="55.3,288.4 53.1,292.2 57.5,292.2" fill="#fff" stroke="#2612e6" stroke-width="1.1"/>
<circle cx="58.5" cy="294.3" r="2.0" fill="#fff" stroke="#2612e6" stroke-width="1.1"/>
<circle cx="62.2" cy="292.1" r="1.6" fill="#2612e6"/>
<circle cx="65.1" cy="284.1" r="2.0" fill="#fff" stroke="#2612e6" stroke-width="1.1"/>
<circle cx="68.4" cy="278.3" r="2.0" fill="#fff" stroke="#2612e6" stroke-width="1.1"/>
<circle cx="71.6" cy="283.8" r="2.0" fill="#fff" stroke="#2612e6" stroke-width="1.1"/>
<polygon points="74.8,266.6 72.6,270.4 77,270.4" fill="#fff" stroke="#2612e6" stroke-width="1.1"/>
<circle cx="78.6" cy="270.3" r="2.0" fill="#fff" stroke="#2612e6" stroke-width="1.1"/>
<polygon points="81.5,263.7 79.3,267.5 83.7,267.5" fill="#fff" stroke="#2612e6" stroke-width="1.1"/>
<circle cx="84.5" cy="231.5" r="2.0" fill="#fff" stroke="#2612e6" stroke-width="1.1"/>
<polygon points="87.9,247.4 85.7,251.2 90.1,251.2" fill="#fff" stroke="#2612e6" stroke-width="1.1"/>
<circle cx="91.4" cy="251.9" r="2.0" fill="#fff" stroke="#2612e6" stroke-width="1.1"/>
<circle cx="94.2" cy="264.5" r="2.0" fill="#fff" stroke="#2612e6" stroke-width="1.1"/>
<circle cx="97.9" cy="219.9" r="2.0" fill="#fff" stroke="#2612e6" stroke-width="1.1"/>
<circle cx="101" cy="243.7" r="2.0" fill="#fff" stroke="#2612e6" stroke-width="1.1"/>
<polygon points="104.2,254.1 102,257.9 106.4,257.9" fill="#fff" stroke="#2612e6" stroke-width="1.1"/>
<circle cx="107.6" cy="253" r="1.6" fill="#2612e6"/>
<circle cx="110.9" cy="260.6" r="2.0" fill="#fff" stroke="#2612e6" stroke-width="1.1"/>
<circle cx="113.8" cy="260.6" r="1.6" fill="#2612e6"/>
<circle cx="117.2" cy="268" r="1.6" fill="#2612e6"/>
<circle cx="120.7" cy="255.5" r="2.0" fill="#fff" stroke="#2612e6" stroke-width="1.1"/>
<circle cx="123.6" cy="270.8" r="2.0" fill="#fff" stroke="#2612e6" stroke-width="1.1"/>
<circle cx="126.9" cy="265.4" r="1.6" fill="#2612e6"/>
<circle cx="130.3" cy="265.7" r="2.0" fill="#fff" stroke="#2612e6" stroke-width="1.1"/>
<circle cx="133.4" cy="276.3" r="1.6" fill="#2612e6"/>
<polygon points="136.5,284.1 134.3,287.9 138.7,287.9" fill="#fff" stroke="#2612e6" stroke-width="1.1"/>
<circle cx="140.1" cy="270.7" r="2.0" fill="#fff" stroke="#2612e6" stroke-width="1.1"/>
<circle cx="143.4" cy="269.5" r="1.6" fill="#2612e6"/>
<circle cx="146.6" cy="272.4" r="1.6" fill="#2612e6"/>
<circle cx="149.6" cy="286.3" r="2.0" fill="#fff" stroke="#2612e6" stroke-width="1.1"/>
<circle cx="153" cy="284.1" r="1.6" fill="#2612e6"/>
<circle cx="156.5" cy="298.3" r="1.6" fill="#2612e6"/>
<circle cx="159.8" cy="296.5" r="1.6" fill="#2612e6"/>
<circle cx="162.7" cy="294.7" r="1.6" fill="#2612e6"/>
<circle cx="166.1" cy="300.7" r="2.0" fill="#fff" stroke="#2612e6" stroke-width="1.1"/>
<circle cx="169.5" cy="301.6" r="1.6" fill="#2612e6"/>
<polygon points="172.8,292.8 170.6,296.6 175,296.6" fill="#fff" stroke="#2612e6" stroke-width="1.1"/>
<circle cx="176" cy="297.6" r="2.0" fill="#fff" stroke="#2612e6" stroke-width="1.1"/>
<circle cx="179.3" cy="300.7" r="2.0" fill="#fff" stroke="#2612e6" stroke-width="1.1"/>
<circle cx="182.5" cy="304" r="1.6" fill="#2612e6"/>
<circle cx="185.9" cy="304.4" r="1.6" fill="#2612e6"/>
<circle cx="189.1" cy="303.5" r="1.6" fill="#2612e6"/>
<circle cx="192" cy="312.3" r="2.0" fill="#fff" stroke="#2612e6" stroke-width="1.1"/>
<circle cx="195.3" cy="304.2" r="1.6" fill="#2612e6"/>
<circle cx="198.5" cy="308.4" r="2.0" fill="#fff" stroke="#2612e6" stroke-width="1.1"/>
<polygon points="201.9,314.9 199.7,318.8 204.1,318.8" fill="#fff" stroke="#2612e6" stroke-width="1.1"/>
<circle cx="205.1" cy="309.1" r="1.6" fill="#2612e6"/>
<circle cx="208.4" cy="305.9" r="1.6" fill="#2612e6"/>
<polyline points="253.8,285.3 256.8,284 259.9,283.5 263.3,283.6 266.3,285 270,272.7 273,267 276.4,236.2 279.6,246" fill="none" stroke="#777777" stroke-width="1.3" stroke-linejoin="round" stroke-linecap="round"/>
<polyline points="289.4,234.7 293.2,234.1" fill="none" stroke="#777777" stroke-width="1.3" stroke-linejoin="round" stroke-linecap="round"/>
<polyline points="296.1,242 299.1,228.6 302.5,238 306.1,228.6 309.1,242" fill="none" stroke="#777777" stroke-width="1.3" stroke-linejoin="round" stroke-linecap="round"/>
<polyline points="312.4,250 315,264.5 318.9,273.5 321.8,261.6 325.5,248.9 329.1,256.4 332.3,272 335.6,277 339.1,284 342.2,286 345.4,288 348.7,290 352.1,293 355.3,296" fill="none" stroke="#777777" stroke-width="1.3" stroke-linejoin="round" stroke-linecap="round"/>
<circle cx="253.8" cy="285.3" r="1.7" fill="#777777"/>
<circle cx="256.8" cy="284" r="1.7" fill="#777777"/>
<circle cx="259.9" cy="283.5" r="1.7" fill="#777777"/>
<circle cx="263.3" cy="283.6" r="1.7" fill="#777777"/>
<circle cx="266.3" cy="285" r="1.7" fill="#777777"/>
<circle cx="270" cy="272.7" r="1.7" fill="#777777"/>
<circle cx="273" cy="267" r="1.7" fill="#777777"/>
<circle cx="276.4" cy="236.2" r="1.7" fill="#777777"/>
<circle cx="279.6" cy="246" r="1.7" fill="#777777"/>
<circle cx="289.4" cy="234.7" r="1.7" fill="#777777"/>
<circle cx="293.2" cy="234.1" r="1.7" fill="#777777"/>
<circle cx="296.1" cy="242" r="1.7" fill="#777777"/>
<circle cx="299.1" cy="228.6" r="1.7" fill="#777777"/>
<circle cx="302.5" cy="238" r="1.7" fill="#777777"/>
<circle cx="306.1" cy="228.6" r="1.7" fill="#777777"/>
<circle cx="309.1" cy="242" r="1.7" fill="#777777"/>
<circle cx="312.4" cy="250" r="1.7" fill="#777777"/>
<circle cx="315" cy="264.5" r="1.7" fill="#777777"/>
<circle cx="318.9" cy="273.5" r="1.7" fill="#777777"/>
<circle cx="321.8" cy="261.6" r="1.7" fill="#777777"/>
<circle cx="325.5" cy="248.9" r="1.7" fill="#777777"/>
<circle cx="329.1" cy="256.4" r="1.7" fill="#777777"/>
<circle cx="332.3" cy="272" r="1.7" fill="#777777"/>
<circle cx="335.6" cy="277" r="1.7" fill="#777777"/>
<circle cx="339.1" cy="284" r="1.7" fill="#777777"/>
<circle cx="342.2" cy="286" r="1.7" fill="#777777"/>
<circle cx="345.4" cy="288" r="1.7" fill="#777777"/>
<circle cx="348.7" cy="290" r="1.7" fill="#777777"/>
<circle cx="352.1" cy="293" r="1.7" fill="#777777"/>
<circle cx="355.3" cy="296" r="1.7" fill="#777777"/>
<polyline points="226.8,304.6 230,304.6 233.6,302.5 236.8,301 240.4,299.6 243.4,298.2 246.8,298.8 250,296.8 253.2,295 256.8,290.5 259.9,283.5 263.3,283.6 266.3,285 270,272.7 273,266.4 276.3,247.2 279.5,243 282.8,255.3 286.2,248.1 289.5,248 292.7,249.2 296.1,240.5 299.3,244.9 302.5,243.2 305.8,245.1 309.1,241.5 312.4,247.4 315.8,256.5 318.9,271.3 322.1,265.5 325.5,261.8 329,265 332.3,274.9 335.6,275 339,275.7 342.2,282.5 345.3,281.8 348.7,283.5 352.1,290.4 355.3,295.5 358.5,297 361.8,299 365.2,301.3 368.4,301.7 371.6,302.5 374.9,303.7 378.5,303" fill="none" stroke="#ff1616" stroke-width="1.8" stroke-linejoin="round" stroke-linecap="round"/>
<circle cx="226.8" cy="304.6" r="1.8" fill="#ff1616"/>
<circle cx="230" cy="304.6" r="1.8" fill="#ff1616"/>
<circle cx="233.6" cy="302.5" r="1.8" fill="#ff1616"/>
<circle cx="236.8" cy="301" r="1.8" fill="#ff1616"/>
<circle cx="240.4" cy="299.6" r="1.8" fill="#ff1616"/>
<circle cx="243.4" cy="298.2" r="1.8" fill="#ff1616"/>
<circle cx="246.8" cy="298.8" r="1.8" fill="#ff1616"/>
<circle cx="250" cy="296.8" r="1.8" fill="#ff1616"/>
<circle cx="253.2" cy="295" r="1.8" fill="#ff1616"/>
<circle cx="256.8" cy="290.5" r="1.8" fill="#ff1616"/>
<circle cx="259.9" cy="283.5" r="1.8" fill="#ff1616"/>
<circle cx="263.3" cy="283.6" r="1.8" fill="#ff1616"/>
<circle cx="266.3" cy="285" r="1.8" fill="#ff1616"/>
<circle cx="270" cy="272.7" r="1.8" fill="#ff1616"/>
<circle cx="273" cy="266.4" r="1.8" fill="#ff1616"/>
<circle cx="276.3" cy="247.2" r="1.8" fill="#ff1616"/>
<circle cx="279.5" cy="243" r="1.8" fill="#ff1616"/>
<circle cx="282.8" cy="255.3" r="1.8" fill="#ff1616"/>
<circle cx="286.2" cy="248.1" r="1.8" fill="#ff1616"/>
<circle cx="289.5" cy="248" r="1.8" fill="#ff1616"/>
<circle cx="292.7" cy="249.2" r="1.8" fill="#ff1616"/>
<circle cx="296.1" cy="240.5" r="1.8" fill="#ff1616"/>
<circle cx="299.3" cy="244.9" r="1.8" fill="#ff1616"/>
<circle cx="302.5" cy="243.2" r="1.8" fill="#ff1616"/>
<circle cx="305.8" cy="245.1" r="1.8" fill="#ff1616"/>
<circle cx="309.1" cy="241.5" r="1.8" fill="#ff1616"/>
<circle cx="312.4" cy="247.4" r="1.8" fill="#ff1616"/>
<circle cx="315.8" cy="256.5" r="1.8" fill="#ff1616"/>
<circle cx="318.9" cy="271.3" r="1.8" fill="#ff1616"/>
<circle cx="322.1" cy="265.5" r="1.8" fill="#ff1616"/>
<circle cx="325.5" cy="261.8" r="1.8" fill="#ff1616"/>
<circle cx="329" cy="265" r="1.8" fill="#ff1616"/>
<circle cx="332.3" cy="274.9" r="1.8" fill="#ff1616"/>
<circle cx="335.6" cy="275" r="1.8" fill="#ff1616"/>
<circle cx="339" cy="275.7" r="1.8" fill="#ff1616"/>
<circle cx="342.2" cy="282.5" r="1.8" fill="#ff1616"/>
<circle cx="345.3" cy="281.8" r="1.8" fill="#ff1616"/>
<circle cx="348.7" cy="283.5" r="1.8" fill="#ff1616"/>
<circle cx="352.1" cy="290.4" r="1.8" fill="#ff1616"/>
<circle cx="355.3" cy="295.5" r="1.8" fill="#ff1616"/>
<circle cx="358.5" cy="297" r="1.8" fill="#ff1616"/>
<circle cx="361.8" cy="299" r="1.8" fill="#ff1616"/>
<circle cx="365.2" cy="301.3" r="1.8" fill="#ff1616"/>
<circle cx="368.4" cy="301.7" r="1.8" fill="#ff1616"/>
<circle cx="371.6" cy="302.5" r="1.8" fill="#ff1616"/>
<circle cx="374.9" cy="303.7" r="1.8" fill="#ff1616"/>
<circle cx="378.5" cy="303" r="1.8" fill="#ff1616"/>
<polyline points="223.6,304.4 227.2,303.2 230.4,304.5 233.6,304 236.8,299.6 239.8,294.4 243.4,301 247,291.6 250,284 253.2,295 256.8,283.4 259.9,274.3 263.1,271.6 266.4,266.8 270,262.1 273.5,269.5 276.5,258.2 279.6,264.4 282.9,262.7 286.2,249.3 289.5,241.3 292.7,259.8 296,257.4 299.3,247.4 302.5,236.5 305.8,248.4 309.1,254.4 312.4,255.9 315.8,257 318.9,285.8 322.1,273.7 325.7,264 328.8,260.3 332.3,279.6 335.6,275.7 339,292.5 342.2,286 345.4,292.1 348.7,282.8 352.1,296.5 355.3,295.9 358.5,299.1 361.8,297.3 365.2,309 368.4,301.3 371.6,304.6 374.9,307.5 378.5,302.3" fill="none" stroke="#2612e6" stroke-width="1.5" stroke-linejoin="round" stroke-linecap="round"/>
<circle cx="223.6" cy="304.4" r="2.0" fill="#fff" stroke="#2612e6" stroke-width="1.1"/>
<circle cx="227.2" cy="303.2" r="1.6" fill="#2612e6"/>
<polygon points="233.6,301.8 231.4,305.6 235.8,305.6" fill="#fff" stroke="#2612e6" stroke-width="1.1"/>
<circle cx="236.8" cy="299.6" r="2.0" fill="#fff" stroke="#2612e6" stroke-width="1.1"/>
<circle cx="239.8" cy="294.4" r="2.0" fill="#fff" stroke="#2612e6" stroke-width="1.1"/>
<circle cx="243.4" cy="301" r="1.6" fill="#2612e6"/>
<polygon points="247,289.4 244.8,293.2 249.2,293.2" fill="#fff" stroke="#2612e6" stroke-width="1.1"/>
<polygon points="250,281.8 247.8,285.6 252.2,285.6" fill="#fff" stroke="#2612e6" stroke-width="1.1"/>
<circle cx="253.2" cy="295" r="1.6" fill="#2612e6"/>
<circle cx="256.8" cy="283.4" r="1.6" fill="#2612e6"/>
<circle cx="259.9" cy="274.3" r="2.0" fill="#fff" stroke="#2612e6" stroke-width="1.1"/>
<circle cx="263.1" cy="271.6" r="2.0" fill="#fff" stroke="#2612e6" stroke-width="1.1"/>
<polygon points="266.4,264.6 264.2,268.4 268.6,268.4" fill="#fff" stroke="#2612e6" stroke-width="1.1"/>
<polygon points="270,259.9 267.8,263.8 272.2,263.8" fill="#fff" stroke="#2612e6" stroke-width="1.1"/>
<polygon points="273.5,267.3 271.3,271.1 275.7,271.1" fill="#fff" stroke="#2612e6" stroke-width="1.1"/>
<circle cx="276.5" cy="258.2" r="1.6" fill="#2612e6"/>
<circle cx="279.6" cy="264.4" r="1.6" fill="#2612e6"/>
<circle cx="282.9" cy="262.7" r="2.0" fill="#fff" stroke="#2612e6" stroke-width="1.1"/>
<circle cx="286.2" cy="249.3" r="1.6" fill="#2612e6"/>
<polygon points="289.5,239.1 287.3,243 291.7,243" fill="#fff" stroke="#2612e6" stroke-width="1.1"/>
<polygon points="292.7,257.6 290.5,261.4 294.9,261.4" fill="#fff" stroke="#2612e6" stroke-width="1.1"/>
<circle cx="296" cy="257.4" r="2.0" fill="#fff" stroke="#2612e6" stroke-width="1.1"/>
<circle cx="299.3" cy="247.4" r="2.0" fill="#fff" stroke="#2612e6" stroke-width="1.1"/>
<circle cx="302.5" cy="236.5" r="1.6" fill="#2612e6"/>
<circle cx="305.8" cy="248.4" r="2.0" fill="#fff" stroke="#2612e6" stroke-width="1.1"/>
<circle cx="309.1" cy="254.4" r="1.6" fill="#2612e6"/>
<circle cx="312.4" cy="255.9" r="1.6" fill="#2612e6"/>
<circle cx="315.8" cy="257" r="2.0" fill="#fff" stroke="#2612e6" stroke-width="1.1"/>
<circle cx="318.9" cy="285.8" r="2.0" fill="#fff" stroke="#2612e6" stroke-width="1.1"/>
<circle cx="322.1" cy="273.7" r="1.6" fill="#2612e6"/>
<circle cx="325.7" cy="264" r="1.6" fill="#2612e6"/>
<circle cx="328.8" cy="260.3" r="1.6" fill="#2612e6"/>
<polygon points="332.3,277.4 330.1,281.2 334.5,281.2" fill="#fff" stroke="#2612e6" stroke-width="1.1"/>
<circle cx="335.6" cy="275.7" r="2.0" fill="#fff" stroke="#2612e6" stroke-width="1.1"/>
<circle cx="339" cy="292.5" r="2.0" fill="#fff" stroke="#2612e6" stroke-width="1.1"/>
<circle cx="342.2" cy="286" r="2.0" fill="#fff" stroke="#2612e6" stroke-width="1.1"/>
<circle cx="345.4" cy="292.1" r="1.6" fill="#2612e6"/>
<circle cx="348.7" cy="282.8" r="2.0" fill="#fff" stroke="#2612e6" stroke-width="1.1"/>
<circle cx="352.1" cy="296.5" r="1.6" fill="#2612e6"/>
<circle cx="355.3" cy="295.9" r="2.0" fill="#fff" stroke="#2612e6" stroke-width="1.1"/>
<circle cx="358.5" cy="299.1" r="2.0" fill="#fff" stroke="#2612e6" stroke-width="1.1"/>
<circle cx="361.8" cy="297.3" r="2.0" fill="#fff" stroke="#2612e6" stroke-width="1.1"/>
<circle cx="365.2" cy="309" r="1.6" fill="#2612e6"/>
<circle cx="368.4" cy="301.3" r="1.6" fill="#2612e6"/>
<circle cx="371.6" cy="304.6" r="2.0" fill="#fff" stroke="#2612e6" stroke-width="1.1"/>
<circle cx="374.9" cy="307.5" r="1.6" fill="#2612e6"/>
<polygon points="378.5,300.1 376.3,303.9 380.7,303.9" fill="#fff" stroke="#2612e6" stroke-width="1.1"/>
<circle cx="223.6" cy="304.4" r="2.0" fill="#fff" stroke="#2612e6" stroke-width="1.1"/>
<circle cx="227.2" cy="303.2" r="1.6" fill="#2612e6"/>
<polygon points="233.6,301.8 231.4,305.6 235.8,305.6" fill="#fff" stroke="#2612e6" stroke-width="1.1"/>
<circle cx="236.8" cy="299.6" r="2.0" fill="#fff" stroke="#2612e6" stroke-width="1.1"/>
<circle cx="239.8" cy="294.4" r="2.0" fill="#fff" stroke="#2612e6" stroke-width="1.1"/>
<circle cx="243.4" cy="301" r="1.6" fill="#2612e6"/>
<polygon points="247,289.4 244.8,293.2 249.2,293.2" fill="#fff" stroke="#2612e6" stroke-width="1.1"/>
<polygon points="250,281.8 247.8,285.6 252.2,285.6" fill="#fff" stroke="#2612e6" stroke-width="1.1"/>
<circle cx="253.2" cy="295" r="1.6" fill="#2612e6"/>
<circle cx="256.8" cy="283.4" r="1.6" fill="#2612e6"/>
<circle cx="259.9" cy="274.3" r="2.0" fill="#fff" stroke="#2612e6" stroke-width="1.1"/>
<circle cx="263.1" cy="271.6" r="2.0" fill="#fff" stroke="#2612e6" stroke-width="1.1"/>
<polygon points="266.4,264.6 264.2,268.4 268.6,268.4" fill="#fff" stroke="#2612e6" stroke-width="1.1"/>
<polygon points="270,259.9 267.8,263.8 272.2,263.8" fill="#fff" stroke="#2612e6" stroke-width="1.1"/>
<polygon points="273.5,267.3 271.3,271.1 275.7,271.1" fill="#fff" stroke="#2612e6" stroke-width="1.1"/>
<circle cx="276.5" cy="258.2" r="1.6" fill="#2612e6"/>
<circle cx="279.6" cy="264.4" r="1.6" fill="#2612e6"/>
<circle cx="282.9" cy="262.7" r="2.0" fill="#fff" stroke="#2612e6" stroke-width="1.1"/>
<circle cx="286.2" cy="249.3" r="1.6" fill="#2612e6"/>
<polygon points="289.5,239.1 287.3,243 291.7,243" fill="#fff" stroke="#2612e6" stroke-width="1.1"/>
<polygon points="292.7,257.6 290.5,261.4 294.9,261.4" fill="#fff" stroke="#2612e6" stroke-width="1.1"/>
<circle cx="296" cy="257.4" r="2.0" fill="#fff" stroke="#2612e6" stroke-width="1.1"/>
<circle cx="299.3" cy="247.4" r="2.0" fill="#fff" stroke="#2612e6" stroke-width="1.1"/>
<circle cx="302.5" cy="236.5" r="1.6" fill="#2612e6"/>
<circle cx="305.8" cy="248.4" r="2.0" fill="#fff" stroke="#2612e6" stroke-width="1.1"/>
<circle cx="309.1" cy="254.4" r="1.6" fill="#2612e6"/>
<circle cx="312.4" cy="255.9" r="1.6" fill="#2612e6"/>
<circle cx="315.8" cy="257" r="2.0" fill="#fff" stroke="#2612e6" stroke-width="1.1"/>
<circle cx="318.9" cy="285.8" r="2.0" fill="#fff" stroke="#2612e6" stroke-width="1.1"/>
<circle cx="322.1" cy="273.7" r="1.6" fill="#2612e6"/>
<circle cx="325.7" cy="264" r="1.6" fill="#2612e6"/>
<circle cx="328.8" cy="260.3" r="1.6" fill="#2612e6"/>
<polygon points="332.3,277.4 330.1,281.2 334.5,281.2" fill="#fff" stroke="#2612e6" stroke-width="1.1"/>
<circle cx="335.6" cy="275.7" r="2.0" fill="#fff" stroke="#2612e6" stroke-width="1.1"/>
<circle cx="339" cy="292.5" r="2.0" fill="#fff" stroke="#2612e6" stroke-width="1.1"/>
<circle cx="342.2" cy="286" r="2.0" fill="#fff" stroke="#2612e6" stroke-width="1.1"/>
<circle cx="345.4" cy="292.1" r="1.6" fill="#2612e6"/>
<circle cx="348.7" cy="282.8" r="2.0" fill="#fff" stroke="#2612e6" stroke-width="1.1"/>
<circle cx="352.1" cy="296.5" r="1.6" fill="#2612e6"/>
<circle cx="355.3" cy="295.9" r="2.0" fill="#fff" stroke="#2612e6" stroke-width="1.1"/>
<circle cx="358.5" cy="299.1" r="2.0" fill="#fff" stroke="#2612e6" stroke-width="1.1"/>
<circle cx="361.8" cy="297.3" r="2.0" fill="#fff" stroke="#2612e6" stroke-width="1.1"/>
<circle cx="365.2" cy="309" r="1.6" fill="#2612e6"/>
<circle cx="368.4" cy="301.3" r="1.6" fill="#2612e6"/>
<circle cx="371.6" cy="304.6" r="2.0" fill="#fff" stroke="#2612e6" stroke-width="1.1"/>
<circle cx="374.9" cy="307.5" r="1.6" fill="#2612e6"/>
<polygon points="378.5,300.1 376.3,303.9 380.7,303.9" fill="#fff" stroke="#2612e6" stroke-width="1.1"/>
<line x1="46.2" y1="321.7" x2="46.2" y2="209.4" stroke="#000" stroke-width="1.6"/>
<line x1="379" y1="321.7" x2="379" y2="209.4" stroke="#000" stroke-width="1.6"/>
<line x1="45.400000000000006" y1="209.4" x2="208" y2="209.4" stroke="#000" stroke-width="1.6"/>
<line x1="218.5" y1="209.4" x2="379.8" y2="209.4" stroke="#000" stroke-width="1.6"/>
<line x1="205.1" y1="212.7" x2="212.6" y2="206.3" stroke="#000" stroke-width="1.4"/>
<line x1="214.1" y1="212.7" x2="221.7" y2="206.3" stroke="#000" stroke-width="1.4"/>
<line x1="45.400000000000006" y1="321.7" x2="208" y2="321.7" stroke="#000" stroke-width="1.6"/>
<line x1="218.5" y1="321.7" x2="379.8" y2="321.7" stroke="#000" stroke-width="1.6"/>
<line x1="205.1" y1="325" x2="212.6" y2="318.6" stroke="#000" stroke-width="1.4"/>
<line x1="214.1" y1="325" x2="221.7" y2="318.6" stroke="#000" stroke-width="1.4"/>
<text x="36.6" y="323.9" font-family="Liberation Serif" font-size="10" font-weight="bold" text-anchor="end" fill="#000" >-0.2</text>
<line x1="46.2" y1="303.5" x2="49.6" y2="303.5" stroke="#000" stroke-width="1.2"/>
<text x="36.6" y="306.9" font-family="Liberation Serif" font-size="10" font-weight="bold" text-anchor="end" fill="#000" >0</text>
<line x1="46.2" y1="286.5" x2="49.6" y2="286.5" stroke="#000" stroke-width="1.2"/>
<text x="36.6" y="289.9" font-family="Liberation Serif" font-size="10" font-weight="bold" text-anchor="end" fill="#000" >0.2</text>
<line x1="46.2" y1="269.5" x2="49.6" y2="269.5" stroke="#000" stroke-width="1.2"/>
<text x="36.6" y="272.9" font-family="Liberation Serif" font-size="10" font-weight="bold" text-anchor="end" fill="#000" >0.4</text>
<line x1="46.2" y1="252.5" x2="49.6" y2="252.5" stroke="#000" stroke-width="1.2"/>
<text x="36.6" y="255.9" font-family="Liberation Serif" font-size="10" font-weight="bold" text-anchor="end" fill="#000" >0.6</text>
<line x1="46.2" y1="235.5" x2="49.6" y2="235.5" stroke="#000" stroke-width="1.2"/>
<text x="36.6" y="238.9" font-family="Liberation Serif" font-size="10" font-weight="bold" text-anchor="end" fill="#000" >0.8</text>
<line x1="46.2" y1="218.5" x2="49.6" y2="218.5" stroke="#000" stroke-width="1.2"/>
<text x="36.6" y="221.9" font-family="Liberation Serif" font-size="10" font-weight="bold" text-anchor="end" fill="#000" >1</text>
<text x="16" y="339.2" font-family="Liberation Serif" font-size="10.2" font-weight="bold" fill="#000" textLength="49" lengthAdjust="spacingAndGlyphs" >10 May 2018</text>
<line x1="91" y1="321.7" x2="91" y2="318.3" stroke="#000" stroke-width="1.2"/>
<text x="71.3" y="339.2" font-family="Liberation Serif" font-size="10.2" font-weight="bold" fill="#000" textLength="38.3" lengthAdjust="spacingAndGlyphs" >4 Jul 2018</text>
<line x1="136" y1="321.7" x2="136" y2="318.3" stroke="#000" stroke-width="1.2"/>
<text x="116.4" y="339.2" font-family="Liberation Serif" font-size="10.2" font-weight="bold" fill="#000" textLength="48.6" lengthAdjust="spacingAndGlyphs" >28 Aug 2018</text>
<line x1="181" y1="321.7" x2="181" y2="318.3" stroke="#000" stroke-width="1.2"/>
<text x="168" y="339.2" font-family="Liberation Serif" font-size="10.2" font-weight="bold" fill="#000" textLength="45.6" lengthAdjust="spacingAndGlyphs" >22 Oct 2018</text>
<line x1="251.5" y1="321.7" x2="251.5" y2="318.3" stroke="#000" stroke-width="1.2"/>
<text x="228" y="339.2" font-family="Liberation Serif" font-size="10.2" font-weight="bold" fill="#000" textLength="52.4" lengthAdjust="spacingAndGlyphs" >30 May 2019</text>
<line x1="297" y1="321.7" x2="297" y2="318.3" stroke="#000" stroke-width="1.2"/>
<text x="282" y="339.2" font-family="Liberation Serif" font-size="10.2" font-weight="bold" fill="#000" textLength="45" lengthAdjust="spacingAndGlyphs" >24 Jul 2019</text>
<line x1="342.2" y1="321.7" x2="342.2" y2="318.3" stroke="#000" stroke-width="1.2"/>
<text x="331.3" y="339.2" font-family="Liberation Serif" font-size="10.2" font-weight="bold" fill="#000" textLength="48.3" lengthAdjust="spacingAndGlyphs" >17 Sep 2019</text>
<text x="202.3" y="351.5" font-family="Liberation Serif" font-size="11.5" font-weight="bold" fill="#000" textLength="21.3" lengthAdjust="spacingAndGlyphs" >Date</text>
<text transform="translate(15.6,311.2) rotate(-90)" x="0" y="0" font-family="Liberation Serif" font-size="10.8" font-weight="bold" fill="#000" textLength="91.8" lengthAdjust="spacingAndGlyphs">SIF (mW/m<tspan dy="-3.2" font-size="7">2</tspan><tspan dy="3.2">/nm/sr)</tspan></text>
<text x="253.2" y="202.9" font-family="Liberation Serif" font-size="12" font-weight="bold" fill="#000" textLength="39.8" lengthAdjust="spacingAndGlyphs" >(b) DM</text>
<line x1="408.5" y1="321.1" x2="541.9" y2="210.6" stroke="#555" stroke-width="1" stroke-dasharray="3.5,2.5"/>
<circle cx="445.4" cy="286.4" r="1.2" fill="#ff1616"/>
<circle cx="456.9" cy="284.2" r="1.2" fill="#ff1616"/>
<circle cx="462.9" cy="280.9" r="1.2" fill="#ff1616"/>
<circle cx="459.6" cy="285.8" r="1.2" fill="#ff1616"/>
<circle cx="437.3" cy="291.3" r="1.2" fill="#ff1616"/>
<circle cx="439.4" cy="294" r="1.2" fill="#ff1616"/>
<circle cx="442.7" cy="294.5" r="1.2" fill="#ff1616"/>
<circle cx="448.7" cy="294.9" r="1.2" fill="#ff1616"/>
<circle cx="435.6" cy="297.8" r="1.2" fill="#ff1616"/>
<circle cx="432.4" cy="299.4" r="1.2" fill="#ff1616"/>
<circle cx="428.5" cy="301.6" r="1.2" fill="#ff1616"/>
<circle cx="430.2" cy="303.3" r="1.2" fill="#ff1616"/>
<circle cx="423.6" cy="303.8" r="1.2" fill="#ff1616"/>
<circle cx="434" cy="304.9" r="1.2" fill="#ff1616"/>
<circle cx="418.5" cy="312.9" r="1.2" fill="#ff1616"/>
<circle cx="426.4" cy="314.5" r="1.2" fill="#ff1616"/>
<circle cx="425.3" cy="316.2" r="1.2" fill="#ff1616"/>
<circle cx="436.2" cy="306.9" r="1.2" fill="#ff1616"/>
<circle cx="423.6" cy="303.6" r="1.2" fill="#ff1616"/>
<circle cx="422.5" cy="308" r="1.2" fill="#ff1616"/>
<circle cx="455" cy="288" r="1.2" fill="#ff1616"/>
<circle cx="442.5" cy="276" r="1.2" fill="#2612e6"/>
<circle cx="457.4" cy="279.6" r="1.2" fill="#2612e6"/>
<circle cx="452" cy="283.6" r="1.2" fill="#2612e6"/>
<circle cx="459.6" cy="282.5" r="1.2" fill="#2612e6"/>
<circle cx="432.4" cy="286.9" r="1.2" fill="#2612e6"/>
<circle cx="437" cy="288.5" r="1.2" fill="#2612e6"/>
<circle cx="437.8" cy="291.8" r="1.2" fill="#2612e6"/>
<circle cx="445.4" cy="290.7" r="1.2" fill="#2612e6"/>
<circle cx="462.9" cy="289.6" r="1.2" fill="#2612e6"/>
<circle cx="464" cy="286.4" r="1.2" fill="#2612e6"/>
<circle cx="459.1" cy="292.4" r="1.2" fill="#2612e6"/>
<circle cx="460.2" cy="293.4" r="1.2" fill="#2612e6"/>
<circle cx="455.8" cy="296.4" r="1.2" fill="#2612e6"/>
<circle cx="453.1" cy="300" r="1.2" fill="#2612e6"/>
<circle cx="439.4" cy="294.5" r="1.2" fill="#2612e6"/>
<circle cx="445.4" cy="296.7" r="1.2" fill="#2612e6"/>
<circle cx="444.9" cy="299.4" r="1.2" fill="#2612e6"/>
<circle cx="449.3" cy="296.7" r="1.2" fill="#2612e6"/>
<circle cx="430.7" cy="297.3" r="1.2" fill="#2612e6"/>
<circle cx="430.2" cy="298.9" r="1.2" fill="#2612e6"/>
<circle cx="439.4" cy="299.4" r="1.2" fill="#2612e6"/>
<circle cx="439.4" cy="302.2" r="1.2" fill="#2612e6"/>
<circle cx="435.6" cy="301.1" r="1.2" fill="#2612e6"/>
<circle cx="434.5" cy="303.8" r="1.2" fill="#2612e6"/>
<circle cx="436.2" cy="306" r="1.2" fill="#2612e6"/>
<circle cx="426.9" cy="304.4" r="1.2" fill="#2612e6"/>
<circle cx="429.1" cy="305.4" r="1.2" fill="#2612e6"/>
<circle cx="424.2" cy="307.6" r="1.2" fill="#2612e6"/>
<circle cx="426.4" cy="307.6" r="1.2" fill="#2612e6"/>
<circle cx="418.2" cy="309.6" r="1.2" fill="#2612e6"/>
<circle cx="418.7" cy="316.2" r="1.2" fill="#2612e6"/>
<circle cx="422" cy="315.6" r="1.2" fill="#2612e6"/>
<circle cx="423.6" cy="317.3" r="1.2" fill="#2612e6"/>
<circle cx="424.2" cy="313.4" r="1.2" fill="#2612e6"/>
<circle cx="429.1" cy="310.2" r="1.2" fill="#2612e6"/>
<circle cx="436.2" cy="308.5" r="1.2" fill="#2612e6"/>
<circle cx="427.4" cy="305.3" r="1.2" fill="#2612e6"/>
<circle cx="452" cy="291" r="1.2" fill="#2612e6"/>
<circle cx="448" cy="293" r="1.2" fill="#2612e6"/>
<line x1="418" y1="312.8" x2="503.8" y2="256.7" stroke="#ff1616" stroke-width="1.2"/>
<line x1="418" y1="311.9" x2="503.8" y2="262.2" stroke="#2612e6" stroke-width="1.2"/>
<rect x="408.4" y="209.6" width="134.0" height="111.4" fill="none" stroke="#000" stroke-width="1.3"/>
<line x1="408.5" y1="321" x2="408.5" y2="319.5" stroke="#000" stroke-width="0.8"/>
<line x1="408.4" y1="321.1" x2="409.9" y2="321.1" stroke="#000" stroke-width="0.8"/>
<text x="408.5" y="332.7" font-family="Liberation Sans" font-size="8.2" font-weight="normal" text-anchor="middle" fill="#333" >0</text>
<text x="406.5" y="324.1" font-family="Liberation Sans" font-size="8.2" font-weight="normal" text-anchor="end" fill="#333" >0</text>
<line x1="440.2" y1="321" x2="440.2" y2="319.5" stroke="#000" stroke-width="0.8"/>
<line x1="408.4" y1="294.8" x2="409.9" y2="294.8" stroke="#000" stroke-width="0.8"/>
<text x="440.2" y="332.7" font-family="Liberation Sans" font-size="8.2" font-weight="normal" text-anchor="middle" fill="#333" >0.5</text>
<text x="406.5" y="297.8" font-family="Liberation Sans" font-size="8.2" font-weight="normal" text-anchor="end" fill="#333" >0.5</text>
<line x1="472" y1="321" x2="472" y2="319.5" stroke="#000" stroke-width="0.8"/>
<line x1="408.4" y1="268.5" x2="409.9" y2="268.5" stroke="#000" stroke-width="0.8"/>
<text x="472" y="332.7" font-family="Liberation Sans" font-size="8.2" font-weight="normal" text-anchor="middle" fill="#333" >1</text>
<text x="406.5" y="271.5" font-family="Liberation Sans" font-size="8.2" font-weight="normal" text-anchor="end" fill="#333" >1</text>
<line x1="503.8" y1="321" x2="503.8" y2="319.5" stroke="#000" stroke-width="0.8"/>
<line x1="408.4" y1="242.2" x2="409.9" y2="242.2" stroke="#000" stroke-width="0.8"/>
<text x="503.8" y="332.7" font-family="Liberation Sans" font-size="8.2" font-weight="normal" text-anchor="middle" fill="#333" >1.5</text>
<text x="406.5" y="245.2" font-family="Liberation Sans" font-size="8.2" font-weight="normal" text-anchor="end" fill="#333" >1.5</text>
<line x1="535.5" y1="321" x2="535.5" y2="319.5" stroke="#000" stroke-width="0.8"/>
<line x1="408.4" y1="215.9" x2="409.9" y2="215.9" stroke="#000" stroke-width="0.8"/>
<text x="535.5" y="332.7" font-family="Liberation Sans" font-size="8.2" font-weight="normal" text-anchor="middle" fill="#333" >2</text>
<text x="406.5" y="218.9" font-family="Liberation Sans" font-size="8.2" font-weight="normal" text-anchor="end" fill="#333" >2</text>
<text x="425.5" y="347.1" font-family="Liberation Sans" font-size="10.6" font-weight="bold" fill="#111" textLength="98.6" lengthAdjust="spacingAndGlyphs" >Tower SIF(mW/m<tspan dy="-4" font-size="7.4">2</tspan><tspan dy="4">/nm/sr)</tspan></text>
<text transform="translate(393.7,307) rotate(-90)" x="0" y="0" font-family="Liberation Sans" font-size="10" font-weight="bold" fill="#111" textLength="83.7" lengthAdjust="spacingAndGlyphs">SIF(mW/m<tspan dy="-3.8" font-size="7.2">2</tspan><tspan dy="3.8">/nm/sr)</tspan></text>
<text x="410.8" y="223.6" font-family="Liberation Serif" font-size="7.2" font-weight="bold" fill="#ff1616" textLength="65.2" lengthAdjust="spacingAndGlyphs" >y=0.79x+0.04,R<tspan dy="-3" font-size="5.8">2</tspan><tspan dy="3">=0.837</tspan></text>
<text x="410.8" y="233.5" font-family="Liberation Serif" font-size="7.2" font-weight="bold" fill="#2612e6" textLength="61.4" lengthAdjust="spacingAndGlyphs" >y=0.7x+0.07,R<tspan dy="-3" font-size="5.8">2</tspan><tspan dy="3">=0.614</tspan></text>
</svg>
</body></html>
